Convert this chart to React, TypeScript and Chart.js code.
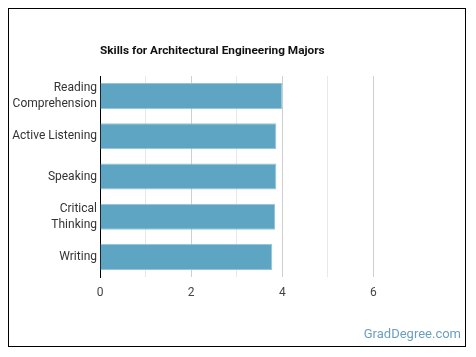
import React, { useEffect, useRef } from "react";
import { Chart, registerables } from "chart.js";

Chart.register(...registerables);

const categories = ["Reading Comprehension", "Active Listening", "Speaking", "Critical Thinking", "Writing"];
const categoryLines = [["Reading", "Comprehension"], ["Active Listening"], ["Speaking"], ["Critical", "Thinking"], ["Writing"]];
const skillValues = [4.0, 3.87, 3.87, 3.84, 3.78];
const xTicks = [0, 1, 2, 3, 4, 5, 6, 7];
const chartTitle = "Skills for Architectural Engineering Majors";
const watermark = "GradDegree.com";

const FONT = "Roboto, 'Noto Sans', sans-serif";

const overlayPlugin = {
  id: "overlayText",
  afterDraw(chart: any) {
    const { ctx, chartArea } = chart;
    ctx.save();
    ctx.font = `bold 11.8px ${FONT}`;
    ctx.fillStyle = "#111";
    ctx.textAlign = "left";
    ctx.textBaseline = "middle";
    ctx.fillText(chartTitle, chartArea.left, 42);
    ctx.font = `13px ${FONT}`;
    ctx.fillStyle = "#6b9fc1";
    ctx.textAlign = "right";
    ctx.fillText(watermark, chart.width - 4, 326);
    ctx.restore();
  },
};

export default function App() {
  const ref = useRef<HTMLCanvasElement | null>(null);
  useEffect(() => {
    if (!ref.current) return;
    const chart = new Chart(ref.current, {
      type: "bar",
      data: {
        labels: categoryLines as any,
        datasets: [
          {
            label: "Skills",
            data: skillValues,
            backgroundColor: "#5ea4c3",
            borderColor: "#93c4da",
            borderWidth: 1,
            barPercentage: 0.65,
            categoryPercentage: 1,
          },
        ],
      },
      options: {
        indexAxis: "y",
        animation: false,
        responsive: false,
        maintainAspectRatio: false,
        layout: { padding: { top: 67, right: 46, bottom: 39, left: 0 } },
        plugins: {
          legend: { display: false },
          title: { display: false },
          tooltip: { enabled: false },
        },
        scales: {
          x: {
            type: "linear",
            min: xTicks[0],
            max: xTicks[xTicks.length - 1],
            afterBuildTicks(scale: any) {
              scale.ticks = xTicks.map((v) => ({ value: v }));
            },
            afterFit(scale: any) {
              scale.height = 30;
            },
            ticks: {
              stepSize: 1,
              padding: 9,
              color: "#444",
              font: { family: FONT, size: 12 },
              callback: (v: any) => (Number(v) % 2 === 0 && Number(v) < 7 ? String(v) : ""),
            },
            grid: {
              drawTicks: false,
              color: (c: any) => {
                const v = c.tick ? c.tick.value : 0;
                if (v >= 7) return "rgba(0,0,0,0)";
                return v % 2 === 0 ? "#cfcfcf" : "#e8e8e8";
              },
            },
            border: { display: false },
          },
          y: {
            afterFit(scale: any) {
              scale.width = 91;
            },
            ticks: {
              padding: 3,
              color: "#333",
              font: { family: FONT, size: 12, lineHeight: 1.3 },
            },
            grid: { display: false, drawTicks: false },
            border: { display: true, color: "#000", width: 1 },
          },
        },
      },
      plugins: [overlayPlugin],
    } as any);
    return () => chart.destroy();
  }, []);
  return (
    <div style={{ width: 456, height: 337, border: "1px solid #000" }}>
      <canvas ref={ref} width={456} height={337} style={{ display: "block" }} />
    </div>
  );
}
